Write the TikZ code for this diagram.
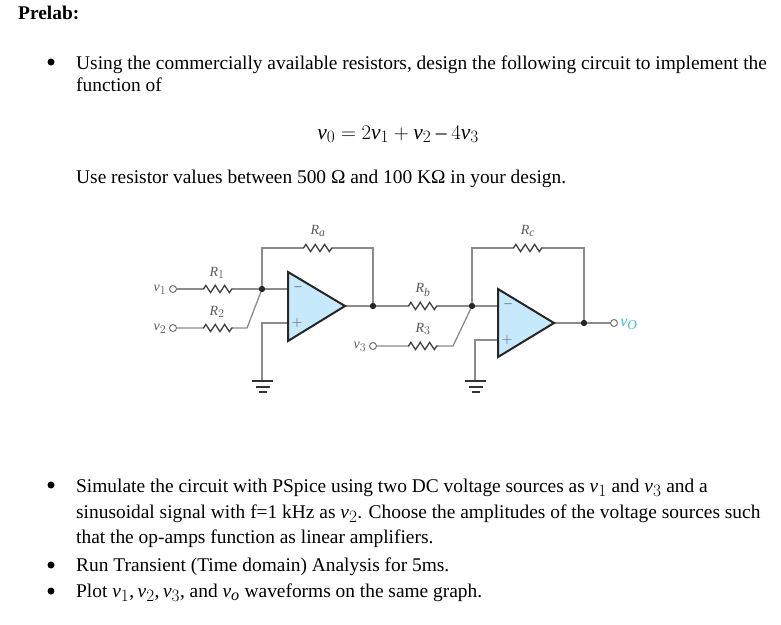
\documentclass[tikz,border=0pt]{standalone}
\usepackage{amsmath}
\usepackage{fontspec}
\setmainfont{Liberation Serif}
\usepackage[italic]{mathastext}
\usetikzlibrary{decorations.pathmorphing}
\definecolor{wire}{HTML}{8C8C8C}
\definecolor{lbl}{HTML}{5A5A5A}
\definecolor{ampfill}{HTML}{C6E9FB}
\definecolor{vout}{HTML}{3FB8DC}
\tikzset{
  txt/.style={anchor=base west,inner sep=0pt,font=\fontsize{19.4}{23}\selectfont},
  bul/.style={circle,fill=black,inner sep=0pt,minimum size=7pt},
  conn/.style={draw=wire,line width=1.3pt},
  res/.style={draw=black!75,line width=1.3pt,decorate,decoration={zigzag,segment length=9.4pt,amplitude=3.6pt,pre length=0.5pt,post length=0.5pt}},
  dot/.style={circle,fill=black!85,inner sep=0pt,minimum size=6pt},
  term/.style={circle,draw=black!55,fill=white,line width=1pt,inner sep=0pt,minimum size=7pt},
  opamp/.style={draw=black!85,fill=ampfill,line width=2pt,line join=miter},
  rlabel/.style={inner sep=0pt,text=lbl,font=\fontsize{14}{14}\selectfont},
  vlabel/.style={inner sep=0pt,text=lbl,font=\fontsize{14}{14}\selectfont},
  sign/.style={inner sep=0pt,text=lbl,font=\fontsize{14}{14}\selectfont},
  gbar/.style={draw=black!80,line width=1.6pt},
}
\begin{document}
\begin{tikzpicture}[x=1pt,y=-1pt]
    \useasboundingbox[fill=white] (0,0) rectangle (781,624);

    % text
    \node[txt,font=\fontsize{19.4}{23}\selectfont\bfseries] (prelab) at (18,19) {Prelab:};
    \node[bul] (b1) at (51,62) {};
    \node[txt] (t1) at (76,69) {Using the commercially available resistors, design the following circuit to implement the};
    \node[txt] (t2) at (76,91) {function of};
    \node[txt,anchor=base,font=\fontsize{21.5}{23}\selectfont] (eqn) at (398,139) {$v_0 = 2v_1 + v_2 - 4v_3$};
    \node[txt] (t3) at (76,183) {Use resistor values between 500 Ω and 100 KΩ in your design.};
    \node[bul] (b2) at (51,485) {};
    \node[txt] (t4) at (76,492) {Simulate the circuit with PSpice using two DC voltage sources as $v_1$ and $v_3$ and a};
    \node[txt] (t5) at (76,518) {sinusoidal signal with f=1 kHz as $v_2$. Choose the amplitudes of the voltage sources such};
    \node[txt] (t6) at (76,543) {that the op-amps function as linear amplifiers.};
    \node[bul] (b3) at (51,565) {};
    \node[txt] (t7) at (76,571) {Run Transient (Time domain) Analysis for 5ms.};
    \node[bul] (b4) at (51,591) {};
    \node[txt] (t8) at (76,597) {Plot $v_1, v_2, v_3$, and $v_o$ waveforms on the same graph.};

    % first amp
    \coordinate (a1t) at (288,272);
    \coordinate (a1b) at (288,341);
    \coordinate (a1o) at (345,306);
    \coordinate (a1m) at (288,289);
    \coordinate (a1p) at (288,323);
    \node[term] (v1) at (173,289) {};
    \node[term] (v2) at (173,328) {};
    \node[dot] (n1) at (262,289) {};
    \node[dot] (n2) at (373,306) {};
    \coordinate (r1l) at (203,289);
    \coordinate (r1r) at (233,289);
    \coordinate (r2l) at (203,328);
    \coordinate (r2r) at (233,328);
    \coordinate (k2) at (247,328);
    \coordinate (ral) at (303,248);
    \coordinate (rar) at (333,248);
    \coordinate (g1t) at (262,323);
    \coordinate (g1) at (262,381);

    \draw[conn] (v1) -- (r1l) (r1r) -- (n1) -- (a1m);
    \draw[conn] (v2) -- (r2l) (r2r) -- (k2) -- (n1);
    \draw[conn] (n1) |- (ral);
    \draw[conn] (rar) -| (n2);
    \draw[conn] (a1o) -- (n2);
    \draw[conn] (a1p) -- (g1t) -- (g1);
    \draw[res] (r1l) -- (r1r);
    \draw[res] (r2l) -- (r2r);
    \draw[res] (ral) -- (rar);
    \draw[opamp] (a1t) -- (a1o) -- (a1b) -- cycle;
    \node[dot] at (n1) {};
    \node[dot] at (n2) {};
    \node[sign] (m1) at (298,289) {$-$};
    \node[sign] (p1) at (297,323) {$+$};
    \draw[gbar] (252,381) -- (273,381);
    \draw[gbar] (256,387) -- (270,387);
    \draw[gbar] (259,392) -- (267,392);

    % second amp
    \coordinate (a2t) at (498,289);
    \coordinate (a2b) at (498,357);
    \coordinate (a2o) at (554,323);
    \coordinate (a2m) at (498,306);
    \coordinate (a2p) at (498,340);
    \node[term] (v3) at (373,346) {};
    \node[dot] (n3) at (472,306) {};
    \node[dot] (n4) at (584,323) {};
    \node[term] (vo) at (614,323) {};
    \coordinate (rbl) at (408,306);
    \coordinate (rbr) at (438,306);
    \coordinate (r3l) at (408,346);
    \coordinate (r3r) at (438,346);
    \coordinate (k3) at (453,346);
    \coordinate (rcl) at (513,248);
    \coordinate (rcr) at (543,248);
    \coordinate (g2t) at (475,340);
    \coordinate (g2) at (475,381);

    \draw[conn] (n2) -- (rbl) (rbr) -- (n3) -- (a2m);
    \draw[conn] (v3) -- (r3l) (r3r) -- (k3) -- (n3);
    \draw[conn] (n3) |- (rcl);
    \draw[conn] (rcr) -| (n4);
    \draw[conn] (a2o) -- (n4) -- (vo);
    \draw[conn] (a2p) -- (g2t) -- (g2);
    \draw[res] (rbl) -- (rbr);
    \draw[res] (r3l) -- (r3r);
    \draw[res] (rcl) -- (rcr);
    \draw[opamp] (a2t) -- (a2o) -- (a2b) -- cycle;
    \node[dot] at (n3) {};
    \node[dot] at (n4) {};
    \node[sign] (m2) at (508,306) {$-$};
    \node[sign] (p2) at (507,340) {$+$};
    \draw[gbar] (465,381) -- (486,381);
    \draw[gbar] (469,387) -- (483,387);
    \draw[gbar] (472,392) -- (480,392);

    % labels
    \node[rlabel] (lr1) at (217,273) {$R_1$};
    \node[rlabel] (lr2) at (217,312) {$R_2$};
    \node[rlabel] (lra) at (318,231) {$R_a$};
    \node[rlabel] (lrb) at (423,290) {$R_b$};
    \node[rlabel] (lr3) at (423,329) {$R_3$};
    \node[rlabel] (lrc) at (528,231) {$R_c$};
    \node[vlabel] (lv1) at (160,290) {$v_1$};
    \node[vlabel] (lv2) at (160,329) {$v_2$};
    \node[vlabel] (lv3) at (360,347) {$v_3$};
    \node[vlabel,text=vout,font=\fontsize{16}{16}\selectfont] (lvo) at (629,324) {$v_O$};
\end{tikzpicture}
\end{document}
